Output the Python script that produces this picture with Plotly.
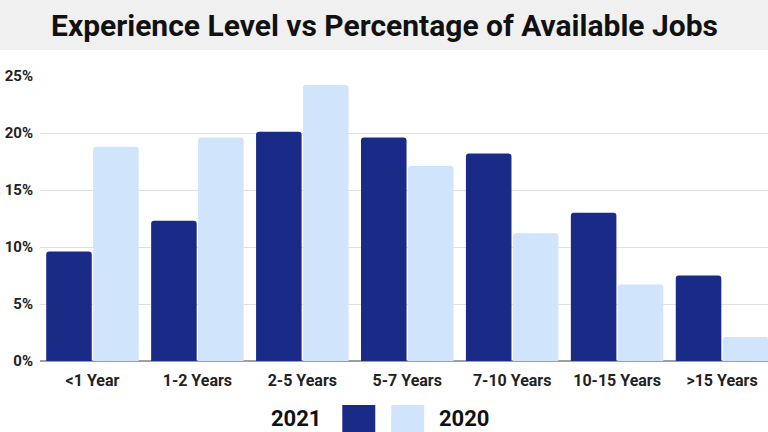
import plotly.graph_objects as go

categories = ["<1 Year", "1-2 Years", "2-5 Years", "5-7 Years", "7-10 Years", "10-15 Years", ">15 Years"]
series_names = ["2021", "2020"]
values_2021 = [9.6, 12.3, 20.1, 19.6, 18.2, 13.0, 7.5]
values_2020 = [18.8, 19.6, 24.2, 17.1, 11.2, 6.7, 2.1]
y_ticks = [0, 5, 10, 15, 20, 25]
y_tick_labels = ["0%", "5%", "10%", "15%", "20%", "25%"]
title_text = "Experience Level vs Percentage of Available Jobs"

DARK = "#1a2b87"
LIGHT = "#d0e4fc"
FONT = "Roboto"

W, H = 768, 432
L, R, T, B = 39.5, 768, 76, 361

fig = go.Figure()
fig.add_trace(go.Bar(x=categories, y=values_2021, name=series_names[0],
                     marker=dict(color=DARK, cornerradius=3, line=dict(width=0)),
                     showlegend=False))
fig.add_trace(go.Bar(x=categories, y=values_2020, name=series_names[1],
                     marker=dict(color=LIGHT, cornerradius=3, line=dict(width=0)),
                     showlegend=False))

def px_x(p):
    return (p - L) / (R - L)

def px_y(p):
    return (B - p) / (B - T)

shapes = [
    dict(type="rect", xref="paper", yref="paper", x0=-1, x1=2, y0=px_y(50), y1=px_y(-10),
         fillcolor="#f0f0f0", line=dict(width=0), layer="below"),
    dict(type="rect", xref="paper", yref="paper", x0=px_x(342), x1=px_x(375),
         y0=px_y(440), y1=px_y(405), fillcolor=DARK, line=dict(width=0)),
    dict(type="rect", xref="paper", yref="paper", x0=px_x(391), x1=px_x(424),
         y0=px_y(440), y1=px_y(405), fillcolor=LIGHT, line=dict(width=0)),
]

annotations = [
    dict(text="<b>%s</b>" % title_text, xref="paper", yref="paper",
         x=px_x(384), y=px_y(26), xanchor="center", yanchor="middle",
         showarrow=False, font=dict(family=FONT, size=30, color="#111111")),
    dict(text="<b>%s</b>" % series_names[0], xref="paper", yref="paper",
         x=px_x(324), y=px_y(418), xanchor="right", yanchor="middle",
         showarrow=False, font=dict(family=FONT, size=22, color="#111111")),
    dict(text="<b>%s</b>" % series_names[1], xref="paper", yref="paper",
         x=px_x(437), y=px_y(418), xanchor="left", yanchor="middle",
         showarrow=False, font=dict(family=FONT, size=22, color="#111111")),
]

fig.update_layout(
    width=W, height=H,
    margin=dict(l=L, r=W - R, t=T, b=H - B, pad=0, autoexpand=False),
    paper_bgcolor="white", plot_bgcolor="white",
    barmode="group", bargap=0.105, bargroupgap=0.03,
    shapes=shapes, annotations=annotations,
    showlegend=False,
    xaxis=dict(range=[-0.5, -0.5 + (R - L) / 105.0], showgrid=False, automargin=False,
               tickfont=dict(family=FONT, size=16, color="#222222", weight="bold"),
               ticks="", showline=False, zeroline=False, fixedrange=True,
               ticklabelstandoff=8),
    yaxis=dict(range=[0, 25], tickvals=y_ticks, ticktext=y_tick_labels, automargin=False,
               showgrid=True, gridcolor="#e0e0e0", gridwidth=1,
               zeroline=True, zerolinecolor="#9e9e9e", zerolinewidth=1.5,
               tickfont=dict(family=FONT, size=15, color="#222222", weight="bold"),
               ticks="", ticklabelstandoff=6, fixedrange=True),
)

fig.write_html("out.html", config={"displayModeBar": False},
               post_script="document.body.style.margin='0';document.body.style.overflow='hidden';")
